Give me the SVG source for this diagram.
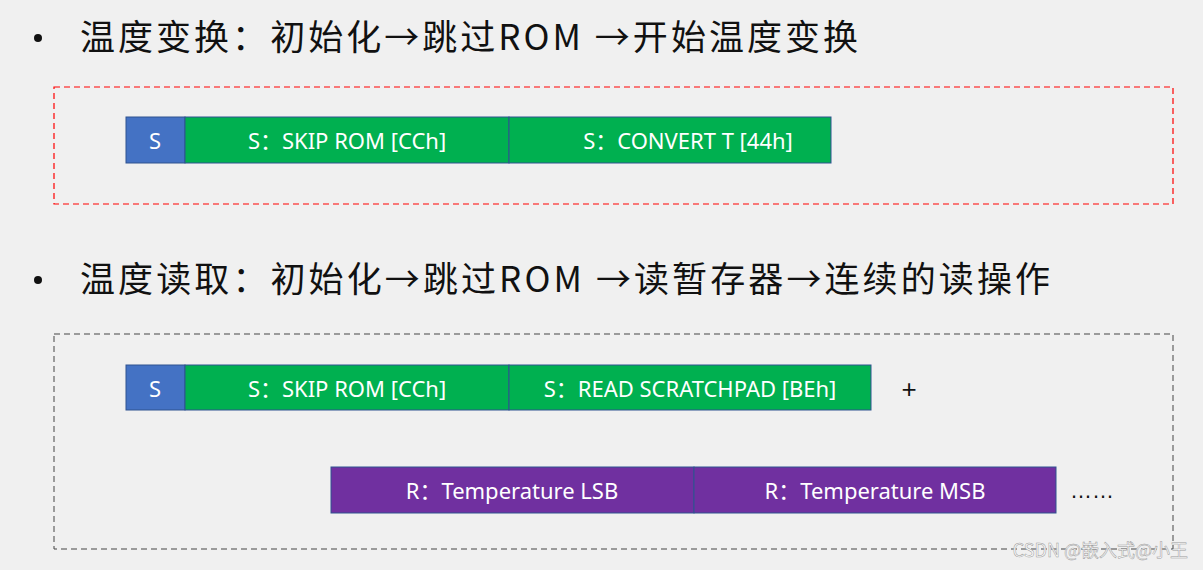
<svg xmlns="http://www.w3.org/2000/svg" width="1203" height="570" viewBox="0 0 1203 570">
<style>
.h{font-family:"Noto Sans CJK SC","Liberation Sans",sans-serif;font-size:35px;fill:#111}
.t{font-family:"Noto Sans","Noto Sans CJK SC",sans-serif;font-size:22px;fill:#fff;text-anchor:middle;dominant-baseline:central}
.b{fill:#4472c4;stroke:#2f528f;stroke-width:1}
.g{fill:#00b050;stroke:#2f528f;stroke-width:1}
.p{fill:#7030a0;stroke:#2f528f;stroke-width:1}
</style>
<rect width="1203" height="570" fill="#f0f0f0"/>
<circle cx="38" cy="38" r="4" fill="#111"/>
<text class="h" x="80" y="50" textLength="778" lengthAdjust="spacing">温度变换：初始化→跳过ROM →开始温度变换</text>
<circle cx="38" cy="280" r="4" fill="#111"/>
<text class="h" x="80" y="292" textLength="970" lengthAdjust="spacing">温度读取：初始化→跳过ROM →读暂存器→连续的读操作</text>
<rect x="54" y="87" width="1119" height="117" fill="none" stroke="#ff0000" stroke-width="1.2" stroke-dasharray="6,4"/>
<rect x="54" y="334" width="1119" height="215" fill="none" stroke="#444" stroke-dasharray="6,4"/>
<g id="r1s"><rect class="b" x="126" y="117" width="59" height="46"/><text class="t" x="155" y="140">S</text></g>
<g id="r1a"><rect class="g" x="185" y="117" width="324" height="46"/><text class="t" x="347" y="140">S：SKIP ROM [CCh]</text></g>
<g id="r1b"><rect class="g" x="509" y="117" width="322" height="46"/><text class="t" x="688" y="140">S：CONVERT T [44h]</text></g>
<g id="r2s"><rect class="b" x="126" y="365" width="59" height="45"/><text class="t" x="155" y="388">S</text></g>
<g id="r2a"><rect class="g" x="185" y="365" width="324" height="45"/><text class="t" x="347" y="388">S：SKIP ROM [CCh]</text></g>
<g id="r2b"><rect class="g" x="509" y="365" width="362" height="45"/><text class="t" x="690" y="388">S：READ SCRATCHPAD [BEh]</text></g>
<text x="909" y="398" font-family="Liberation Sans,sans-serif" font-size="26" fill="#111" text-anchor="middle">+</text>
<g id="r3a"><rect class="p" x="331" y="467" width="363" height="46"/><text class="t" x="512" y="490">R：Temperature LSB</text></g>
<g id="r3b"><rect class="p" x="694" y="467" width="362" height="46"/><text class="t" x="875" y="490">R：Temperature MSB</text></g>
<text x="1070" y="498" font-family="Liberation Sans,sans-serif" font-size="22" fill="#111">……</text>
<text x="1188" y="557" font-family="Noto Sans CJK SC,sans-serif" font-size="18" fill="#fff" stroke="#999" stroke-width="0.5" text-anchor="end">CSDN @嵌入式@小王</text>
</svg>
